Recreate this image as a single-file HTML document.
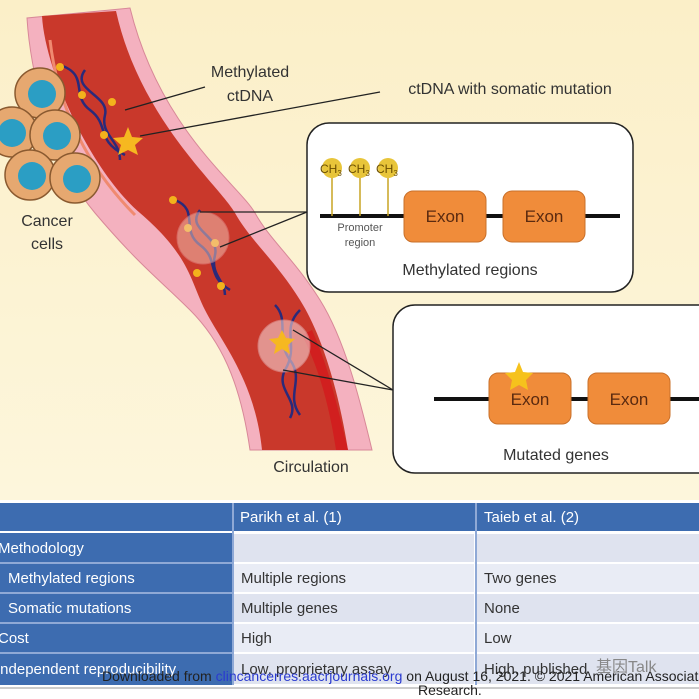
<!DOCTYPE html>
<html><head><meta charset="utf-8"><style>
body{margin:0;width:699px;height:699px;overflow:hidden;background:#fdf3d3;font-family:"Liberation Sans",sans-serif}
</style></head><body>
<svg width="699" height="699" viewBox="0 0 699 699" xmlns="http://www.w3.org/2000/svg" style="position:absolute;left:0;top:0">
<defs><linearGradient id="bg" x1="0" y1="0" x2="0" y2="1"><stop offset="0" stop-color="#fbefc8"/><stop offset="1" stop-color="#fdf6dc"/></linearGradient></defs>
<rect width="699" height="500" fill="url(#bg)"/>
<!-- vessel -->
<path d="M27,18 C30,70 50,160 95,213 S160,280 190,310 S240,380 250,450 L372,450 C360,400 345,340 320,300 S270,240 255,213 S160,130 130,8 Z" fill="#f4b1bf" stroke="#d88898"/>
<path d="M42,16 C45,70 90,170 140,213 S190,280 205,310 S255,380 262,450 L348,450 C340,400 325,340 300,300 S250,240 235,213 S140,120 116,11 Z" fill="#c9382b"/>
<path d="M312,330 C330,370 338,410 348,450 L336,450 C330,410 320,370 302,335Z" fill="#d11f1f"/>
<path d="M50,40 C58,110 90,170 135,215" stroke="#f08a70" stroke-width="3" fill="none"/>
<!-- cells -->
<g fill="#e6a870" stroke="#8a5a30" stroke-width="1.5">
<circle cx="40" cy="93" r="25"/><circle cx="12" cy="132" r="25"/><circle cx="55" cy="135" r="25"/><circle cx="30" cy="175" r="25"/><circle cx="75" cy="178" r="25"/></g>
<g fill="#2b9ec4"><circle cx="42" cy="94" r="14"/><circle cx="12" cy="133" r="14"/><circle cx="57" cy="136" r="14"/><circle cx="32" cy="176" r="14"/><circle cx="77" cy="179" r="14"/></g>
<!-- DNA -->
<g stroke="#2a2a7a" stroke-width="2.5" fill="none">
<path d="M60,65 C90,75 70,95 90,110 C110,125 95,140 125,155"/>
<path d="M85,70 C70,90 110,95 105,115 C100,135 120,140 120,160"/>
<path d="M175,200 C200,210 180,230 200,245 C220,260 205,275 230,290"/>
<path d="M200,210 C185,230 220,235 215,255 C210,275 225,280 225,295"/>
<path d="M275,305 C290,320 275,340 290,360 C305,380 285,395 300,415"/>
<path d="M300,310 C280,330 300,345 285,370 C275,390 300,400 290,418"/>
</g>
<g fill="#f3b21c"><circle cx="60" cy="67" r="4"/><circle cx="82" cy="95" r="4"/><circle cx="112" cy="102" r="4"/><circle cx="104" cy="135" r="4"/><circle cx="173" cy="200" r="4"/><circle cx="188" cy="228" r="4"/><circle cx="215" cy="243" r="4"/><circle cx="197" cy="273" r="4"/><circle cx="221" cy="286" r="4"/></g>
<circle cx="203" cy="238" r="26" fill="#f3c8b8" opacity=".5" stroke="#e59090"/>
<circle cx="284" cy="346" r="26" fill="#f3d0d0" opacity=".6" stroke="#e0a0a0"/>
<polygon points="128,127 132,137 143,138 135,145 138,155 128,150 118,155 121,145 113,138 124,137" fill="#f6b820"/>
<polygon points="282,330 286,338 295,339 288,345 290,354 282,349 274,354 276,345 269,339 278,338" fill="#f6b820"/>
<!-- connectors -->
<g stroke="#222" stroke-width="1.3" fill="none">
<line x1="125" y1="110" x2="205" y2="87"/><line x1="140" y1="136" x2="380" y2="92"/>
<line x1="200" y1="212" x2="307" y2="212"/><line x1="220" y1="247" x2="307" y2="212"/>
<line x1="293" y1="330" x2="393" y2="390"/><line x1="283" y1="370" x2="393" y2="390"/>
</g>
<g font-size="16" fill="#333" text-anchor="middle">
<text x="250" y="77">Methylated</text><text x="250" y="101">ctDNA</text>
<text x="510" y="94">ctDNA with somatic mutation</text>
<text x="47" y="226">Cancer</text><text x="47" y="249">cells</text>
<text x="311" y="472">Circulation</text>
</g>
<!-- box1 -->
<rect x="307" y="123" width="326" height="169" rx="22" fill="#fff" stroke="#222" stroke-width="1.5"/>
<line x1="320" y1="216" x2="620" y2="216" stroke="#111" stroke-width="4"/>
<g stroke="#c9a422" stroke-width="1.5"><line x1="332" y1="172" x2="332" y2="216"/><line x1="360" y1="172" x2="360" y2="216"/><line x1="388" y1="172" x2="388" y2="216"/></g>
<g fill="#e8c53a"><circle cx="332" cy="168" r="10"/><circle cx="360" cy="168" r="10"/><circle cx="388" cy="168" r="10"/></g>
<g font-size="12" fill="#6a4d00"><text x="320" y="173">CH<tspan font-size="8" dy="3">3</tspan></text><text x="348" y="173">CH<tspan font-size="8" dy="3">3</tspan></text><text x="376" y="173">CH<tspan font-size="8" dy="3">3</tspan></text></g>
<g font-size="11" fill="#555" text-anchor="middle"><text x="360" y="231">Promoter</text><text x="360" y="246">region</text></g>
<rect x="404" y="191" width="82" height="51" rx="9" fill="#f08c3a" stroke="#c9702a"/>
<rect x="503" y="191" width="82" height="51" rx="9" fill="#f08c3a" stroke="#c9702a"/>
<g font-size="17" fill="#5a2a10" text-anchor="middle"><text x="445" y="222">Exon</text><text x="544" y="222">Exon</text></g>
<text x="470" y="275" font-size="16" fill="#333" text-anchor="middle">Methylated regions</text>
<!-- box2 -->
<rect x="393" y="305" width="330" height="168" rx="22" fill="#fff" stroke="#222" stroke-width="1.5"/>
<line x1="434" y1="399" x2="699" y2="399" stroke="#111" stroke-width="4"/>
<rect x="489" y="373" width="82" height="51" rx="9" fill="#f08c3a" stroke="#c9702a"/>
<rect x="588" y="373" width="82" height="51" rx="9" fill="#f08c3a" stroke="#c9702a"/>
<polygon points="519,362 523,372 533,373 526,380 528,390 519,385 510,390 512,380 505,373 515,372" fill="#f6c21c"/>
<g font-size="17" fill="#5a2a10" text-anchor="middle"><text x="530" y="405">Exon</text><text x="629" y="405">Exon</text></g>
<text x="556" y="460" font-size="16" fill="#333" text-anchor="middle">Mutated genes</text>
<!-- table -->
<rect x="0" y="500" width="699" height="199" fill="#fff"/>
<rect x="0" y="503" width="699" height="28" fill="#3d6cb0"/>
<rect x="0" y="533" width="232" height="152" fill="#3d6cb0"/>
<g fill="#dfe3ef"><rect x="234" y="534" width="240" height="28"/><rect x="477" y="534" width="222" height="28"/>
<rect x="234" y="564" width="240" height="28" fill="#e9ecf5"/><rect x="477" y="564" width="222" height="28" fill="#e9ecf5"/>
<rect x="234" y="594" width="240" height="28"/><rect x="477" y="594" width="222" height="28"/>
<rect x="234" y="624" width="240" height="28" fill="#e9ecf5"/><rect x="477" y="624" width="222" height="28" fill="#e9ecf5"/>
<rect x="234" y="654" width="240" height="30"/><rect x="477" y="654" width="222" height="30"/></g>
<g stroke="#8fa9d6" stroke-width="2"><line x1="0" y1="563" x2="232" y2="563"/><line x1="0" y1="593" x2="232" y2="593"/><line x1="0" y1="623" x2="232" y2="623"/><line x1="0" y1="653" x2="232" y2="653"/><line x1="233" y1="503" x2="233" y2="685"/><line x1="476" y1="503" x2="476" y2="685"/></g>
<g font-size="15" fill="#fff"><text x="240" y="522">Parikh et al. (1)</text><text x="484" y="522">Taieb et al. (2)</text>
<text x="-2" y="553">Methodology</text><text x="8" y="583">Methylated regions</text><text x="8" y="613">Somatic mutations</text><text x="-2" y="643">Cost</text><text x="-4" y="674">Independent reproducibility</text></g>
<g font-size="15" fill="#333"><text x="241" y="583">Multiple regions</text><text x="484" y="583">Two genes</text><text x="241" y="613">Multiple genes</text><text x="484" y="613">None</text><text x="241" y="643">High</text><text x="484" y="643">Low</text><text x="241" y="674">Low, proprietary assay</text><text x="484" y="674">High, published</text></g>
<line x1="0" y1="688" x2="699" y2="688" stroke="#999"/>
<g font-size="14" fill="#222"><text x="102" y="681">Downloaded from <tspan fill="#2a3ad0">clincancerres.aacrjournals.org</tspan> on August 16, 2021. © 2021 American Association for Cancer</text>
<text x="418" y="695">Research.</text></g>
<text x="596" y="672" font-size="16" fill="#888" font-family="'Liberation Sans','Noto Sans CJK SC',sans-serif">基因Talk</text>
</svg>
</body></html>
